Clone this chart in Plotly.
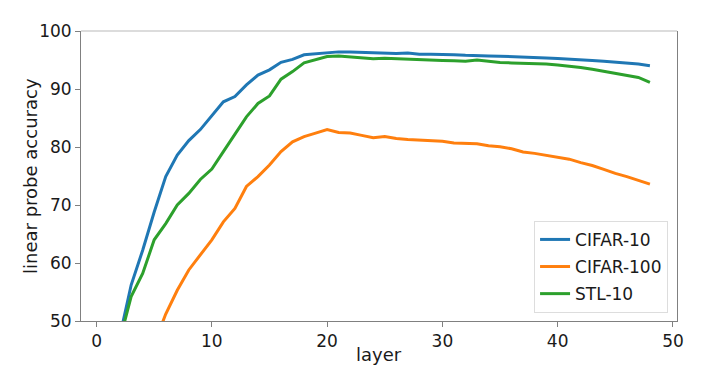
import plotly.graph_objects as go

layers = list(range(1, 49))
cifar10 = [40.0, 47.2, 56.2, 62.2, 68.8, 74.9, 78.6, 81.1, 83.0, 85.5, 87.8, 88.7,
           90.7, 92.4, 93.3, 94.6, 95.1, 95.9, 96.1, 96.3, 96.4, 96.4, 96.3, 96.2,
           96.2, 96.1, 96.2, 96.0, 96.0, 96.0, 95.9, 95.8, 95.7, 95.7, 95.65, 95.6,
           95.55, 95.5, 95.35, 95.25, 95.1, 95.0, 94.9, 94.8, 94.65, 94.45, 94.3, 94.0]
cifar100 = [30.0, 35.0, 39.0, 42.5, 46.0, 51.2, 55.3, 58.8, 61.4, 64.0, 67.1, 69.4,
            73.2, 74.9, 76.9, 79.2, 80.9, 81.8, 82.4, 83.0, 82.5, 82.4, 82.0, 81.6,
            81.8, 81.45, 81.3, 81.2, 81.1, 81.0, 80.7, 80.6, 80.55, 80.2, 80.05, 79.7,
            79.15, 78.9, 78.6, 78.2, 77.9, 77.3, 76.8, 76.15, 75.45, 74.9, 74.2, 73.6]
stl10 = [40.0, 46.6, 54.2, 58.2, 64.0, 66.8, 70.0, 72.0, 74.4, 76.2, 79.2, 82.1,
         85.2, 87.5, 88.8, 91.7, 93.0, 94.5, 95.1, 95.6, 95.7, 95.5, 95.4, 95.2,
         95.3, 95.2, 95.2, 95.1, 95.0, 94.9, 94.85, 94.8, 95.0, 94.75, 94.55, 94.5,
         94.45, 94.4, 94.3, 94.15, 93.95, 93.7, 93.4, 93.05, 92.7, 92.4, 92.0, 91.15]

series = [("CIFAR-10", cifar10, "#1f77b4"),
          ("CIFAR-100", cifar100, "#ff7f0e"),
          ("STL-10", stl10, "#2ca02c")]

FONT = "DejaVu Sans"
FS = 17
FT = 18
fig = go.Figure()
for name, vals, col in series:
    fig.add_trace(go.Scatter(x=layers, y=vals, mode="lines", name=name,
                             legendgroup=name,
                             line=dict(color=col, width=3)))

fig.update_layout(
    width=712, height=365,
    margin=dict(l=81, r=35, t=31, b=44),
    paper_bgcolor="white", plot_bgcolor="white",
    font=dict(family=FONT, size=FS, color="#1a1a1a"),
    showlegend=True,
    legend=dict(x=0.985, y=0.028, xanchor="right", yanchor="bottom",
                bgcolor="white", bordercolor="#dddddd", borderwidth=1,
                font=dict(family=FONT, size=FS, color="#1a1a1a"),
                tracegroupgap=2, traceorder="grouped"),
    xaxis=dict(range=[-1.35, 50.35], tickmode="array",
               tickvals=[0, 10, 20, 30, 40, 50],
               showgrid=False, zeroline=False, automargin=False,
               showline=True, linecolor="#808080", linewidth=1, mirror=False,
               ticks="outside", ticklen=5, tickcolor="#808080"),
    yaxis=dict(range=[50, 100], tickmode="array",
               tickvals=[50, 60, 70, 80, 90, 100],
               showgrid=False, zeroline=False, automargin=False,
               showline=True, linecolor="#808080", linewidth=1, mirror=True,
               ticks="outside", ticklen=5, tickcolor="#808080"),
    shapes=[dict(type="line", xref="paper", yref="paper", x0=0, x1=1, y0=1, y1=1,
                 line=dict(color="#d0d0d0", width=1.5))],
    annotations=[
        dict(text="layer", xref="paper", yref="paper", x=0.5, y=-0.117,
             xanchor="center", yanchor="middle", showarrow=False,
             font=dict(family=FONT, size=FT, color="#1a1a1a")),
        dict(text="linear probe accuracy", xref="paper", yref="paper",
             x=-0.0856, y=0.5, xanchor="center", yanchor="middle",
             textangle=-90, showarrow=False,
             font=dict(family=FONT, size=FT, color="#1a1a1a")),
    ],
)

fig.write_html("out.html")
